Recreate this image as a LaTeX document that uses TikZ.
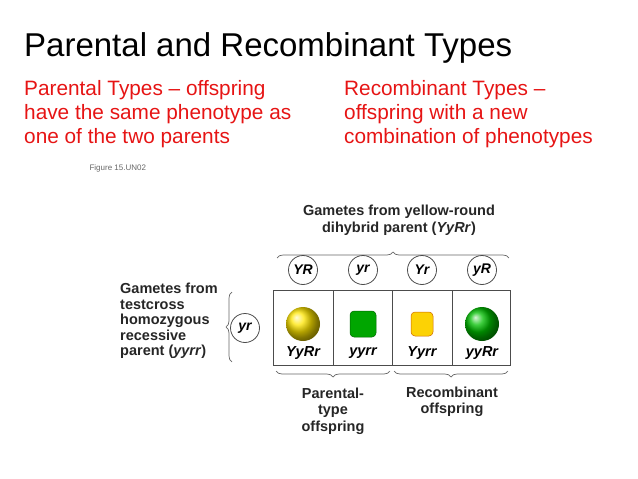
\documentclass[tikz,border=0pt]{standalone}
\usepackage{fontspec}
\setmainfont{Liberation Sans}
\usetikzlibrary{decorations.pathreplacing}
\definecolor{redt}{RGB}{230,20,20}
\begin{document}
\begin{tikzpicture}[x=1pt,y=-1pt,
  red/.style={anchor=west,text=redt,font=\fontsize{20.8}{24}\selectfont,inner sep=0pt},
  lab/.style={font=\bfseries\fontsize{14.5}{16.5}\selectfont,align=center,text=black!85},
  gam/.style={circle,draw=black!70,line width=0.8pt,minimum size=29pt,inner sep=0pt,font=\bfseries\itshape\fontsize{14}{15}\selectfont},
  geno/.style={font=\bfseries\itshape\fontsize{14.5}{15}\selectfont},
  br/.style={draw=black!60,line width=0.7pt,decorate,decoration={brace,amplitude=6pt}},
  cell/.style={draw=black!70,line width=0.8pt}]
\useasboundingbox (0,0) rectangle (638,479);
\node[anchor=west,font=\fontsize{33}{36}\selectfont,inner sep=0pt] (title) at (24,48) {Parental and Recombinant Types};
\node[red] (p1) at (24,90) {Parental Types – offspring};
\node[red] (p2) at (24,114) {have the same phenotype as};
\node[red] (p3) at (24,138) {one of the two parents};
\node[red] (r1) at (344,90) {Recombinant Types –};
\node[red] (r2) at (344,114) {offspring with a new};
\node[red] (r3) at (344,138) {combination of phenotypes};
\node[anchor=west,font=\fontsize{8}{9}\selectfont,text=black!60] (fig) at (86,168) {Figure 15.UN02};
\node[lab] (top) at (399,220) {Gametes from yellow-round\\dihybrid parent (\textit{YyRr})};
\draw[br] (277,258) coordinate (tb1) -- (509,258) coordinate (tb2);
\node[gam] (g1) at (303,270) {YR};
\node[gam] (g2) at (363,270) {yr};
\node[gam] (g3) at (422,270) {Yr};
\node[gam] (g4) at (482,270) {yR};
\draw[cell] (273,290) rectangle (510,365);
\foreach \x in {333,392,452} \draw[cell] (\x,290) -- (\x,365);
\node[lab,align=left,anchor=west,inner sep=0pt] (left) at (120,321) {Gametes from\\[-1pt]testcross\\[-1pt]homozygous\\[-1pt]recessive\\[-1pt]parent (\textit{yyrr})};
\draw[br] (232,362) -- (232,292);
\node[gam] (g0) at (245,328) {yr};
\shade[ball color=yellow!80!orange] (303,324) circle (17);
\node[fill=green!65!black,rounded corners=4pt,minimum width=26pt,minimum height=26pt,draw=green!40!black,line width=0.5pt] (pea2) at (363,324) {};
\node[fill=yellow!70!orange,rounded corners=4pt,minimum width=22pt,minimum height=24pt,draw=orange!80!black,line width=0.5pt] (pea3) at (422,324) {};
\shade[ball color=green!75!black] (482,324) circle (17);
\node[geno] (k1) at (303,353) {YyRr};
\node[geno] (k2) at (363,353) {yyrr};
\node[geno] (k3) at (422,353) {Yyrr};
\node[geno] (k4) at (482,353) {yyRr};
\draw[br] (390,371) -- (276,371);
\draw[br] (508,371) -- (394,371);
\node[lab] (pt) at (333,411) {Parental-\\type\\offspring};
\node[lab] (rt) at (452,402) {Recombinant\\offspring};
\end{tikzpicture}
\end{document}
